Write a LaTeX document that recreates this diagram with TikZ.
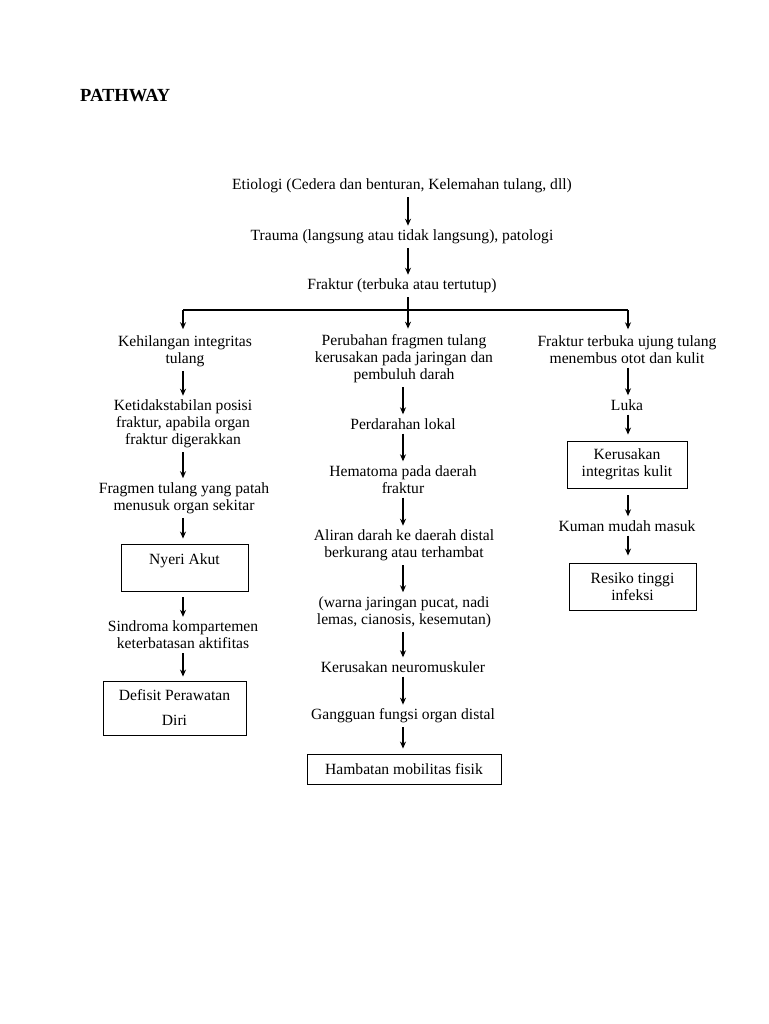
\documentclass[tikz,border=0pt]{standalone}
\usepackage{fontspec}
\setmainfont{Liberation Serif}
\usetikzlibrary{arrows.meta,calc}
\begin{document}
\begin{tikzpicture}[x=1pt,y=-1pt,
  txt/.style={align=center,inner sep=4pt,font=\fontsize{15.6}{17}\selectfont},
  boxnode/.style={txt,draw,line width=0.9pt},
  arr/.style={-{Stealth[length=7pt,width=6pt]},line width=1.1pt},
  ln/.style={line width=1.1pt}]
\useasboundingbox[fill=white] (0,0) rectangle (768,1024);
\node[anchor=west,font=\fontsize{18.5}{20}\selectfont\bfseries,inner sep=0pt] (title) at (80,96) {PATHWAY};

\coordinate (cx) at (408,0);
\coordinate (lx) at (183,0);
\coordinate (mx) at (403,0);
\coordinate (rx) at (628,0);

\node[txt] (etio) at (402,186) {Etiologi (Cedera dan benturan, Kelemahan tulang, dll)};
\node[txt] (trauma) at (402,237) {Trauma (langsung atau tidak langsung), patologi};
\node[txt] (fraktur) at (402,286) {Fraktur (terbuka atau tertutup)};
\coordinate (split) at (408,310);

% left column
\node[txt] (l1) at (185,351) {Kehilangan integritas\\tulang};
\node[txt] (l2) at (183,424) {Ketidakstabilan posisi\\fraktur, apabila organ\\fraktur digerakkan};
\node[txt] (l3) at (184,498) {Fragmen tulang yang patah\\menusuk organ sekitar};
\node[boxnode,minimum width=127pt,minimum height=47pt] (l4) at (184.5,567.5) {Nyeri Akut\\\mbox{}};
\node[txt] (l5) at (183,635) {Sindroma kompartemen\\keterbatasan aktifitas};
\node[boxnode,minimum width=143pt,minimum height=54pt] (l6) at (174.5,708) {Defisit Perawatan\\[8pt]Diri};

% middle column
\node[txt] (m1) at (404,359) {Perubahan fragmen tulang\\kerusakan pada jaringan dan\\pembuluh darah};
\node[txt] (m2) at (403,424) {Perdarahan lokal};
\node[txt] (m3) at (403,479.5) {Hematoma pada daerah\\fraktur};
\node[txt] (m4) at (404,545.5) {Aliran darah ke daerah distal\\berkurang atau terhambat};
\node[txt] (m5) at (404,612) {(warna jaringan pucat, nadi\\lemas, cianosis, kesemutan)};
\node[txt] (m6) at (403,667) {Kerusakan neuromuskuler};
\node[txt] (m7) at (403,716) {Gangguan fungsi organ distal};
\node[boxnode,minimum width=194pt,minimum height=30pt] (m8) at (404,769) {Hambatan mobilitas fisik};

% right column
\node[txt] (r1) at (627,349.5) {Fraktur terbuka ujung tulang\\menembus otot dan kulit};
\node[txt] (r2) at (627,405) {Luka};
\node[boxnode,minimum width=120pt,minimum height=47pt] (r3) at (627,464.5) {Kerusakan\\integritas kulit};
\node[txt] (r4) at (627,526) {Kuman mudah masuk};
\node[boxnode,minimum width=127pt,minimum height=47pt] (r5) at (632.5,586.5) {Resiko tinggi\\infeksi};

% trunk
\draw[arr] (etio.south -| cx) -- (trauma.north -| cx);
\draw[arr] (trauma.south -| cx) -- (fraktur.north -| cx);
\draw[ln] (split -| lx) -- (split -| rx);
\draw[arr] (fraktur.south -| cx) -- ([yshift=2pt]m1.north -| cx);
\draw[arr] (split -| lx) -- ([yshift=2pt]l1.north -| lx);
\draw[arr] (split -| rx) -- ([yshift=2pt]r1.north -| rx);

% left arrows
\draw[arr] (l1.south -| lx) -- (l2.north -| lx);
\draw[arr] (l2.south -| lx) -- (l3.north -| lx);
\draw[arr] (l3.south -| lx) -- ([yshift=5pt]l4.north -| lx);
\draw[arr] ([yshift=-6pt]l4.south -| lx) -- (l5.north -| lx);
\draw[arr] (l5.south -| lx) -- ([yshift=4pt]l6.north -| lx);

% middle arrows
\draw[arr] (m1.south -| mx) -- (m2.north -| mx);
\draw[arr] (m2.south -| mx) -- (m3.north -| mx);
\draw[arr] (m3.south -| mx) -- (m4.north -| mx);
\draw[arr] (m4.south -| mx) -- (m5.north -| mx);
\draw[arr] (m5.south -| mx) -- (m6.north -| mx);
\draw[arr] (m6.south -| mx) -- (m7.north -| mx);
\draw[arr] (m7.south -| mx) -- ([yshift=5pt]m8.north -| mx);

% right arrows
\draw[arr] (r1.south -| rx) -- (r2.north -| rx);
\draw[arr] (r2.south -| rx) -- ([yshift=6pt]r3.north -| rx);
\draw[arr] ([yshift=-7pt]r3.south -| rx) -- (r4.north -| rx);
\draw[arr] (r4.south -| rx) -- ([yshift=7pt]r5.north -| rx);
\end{tikzpicture}
\end{document}
